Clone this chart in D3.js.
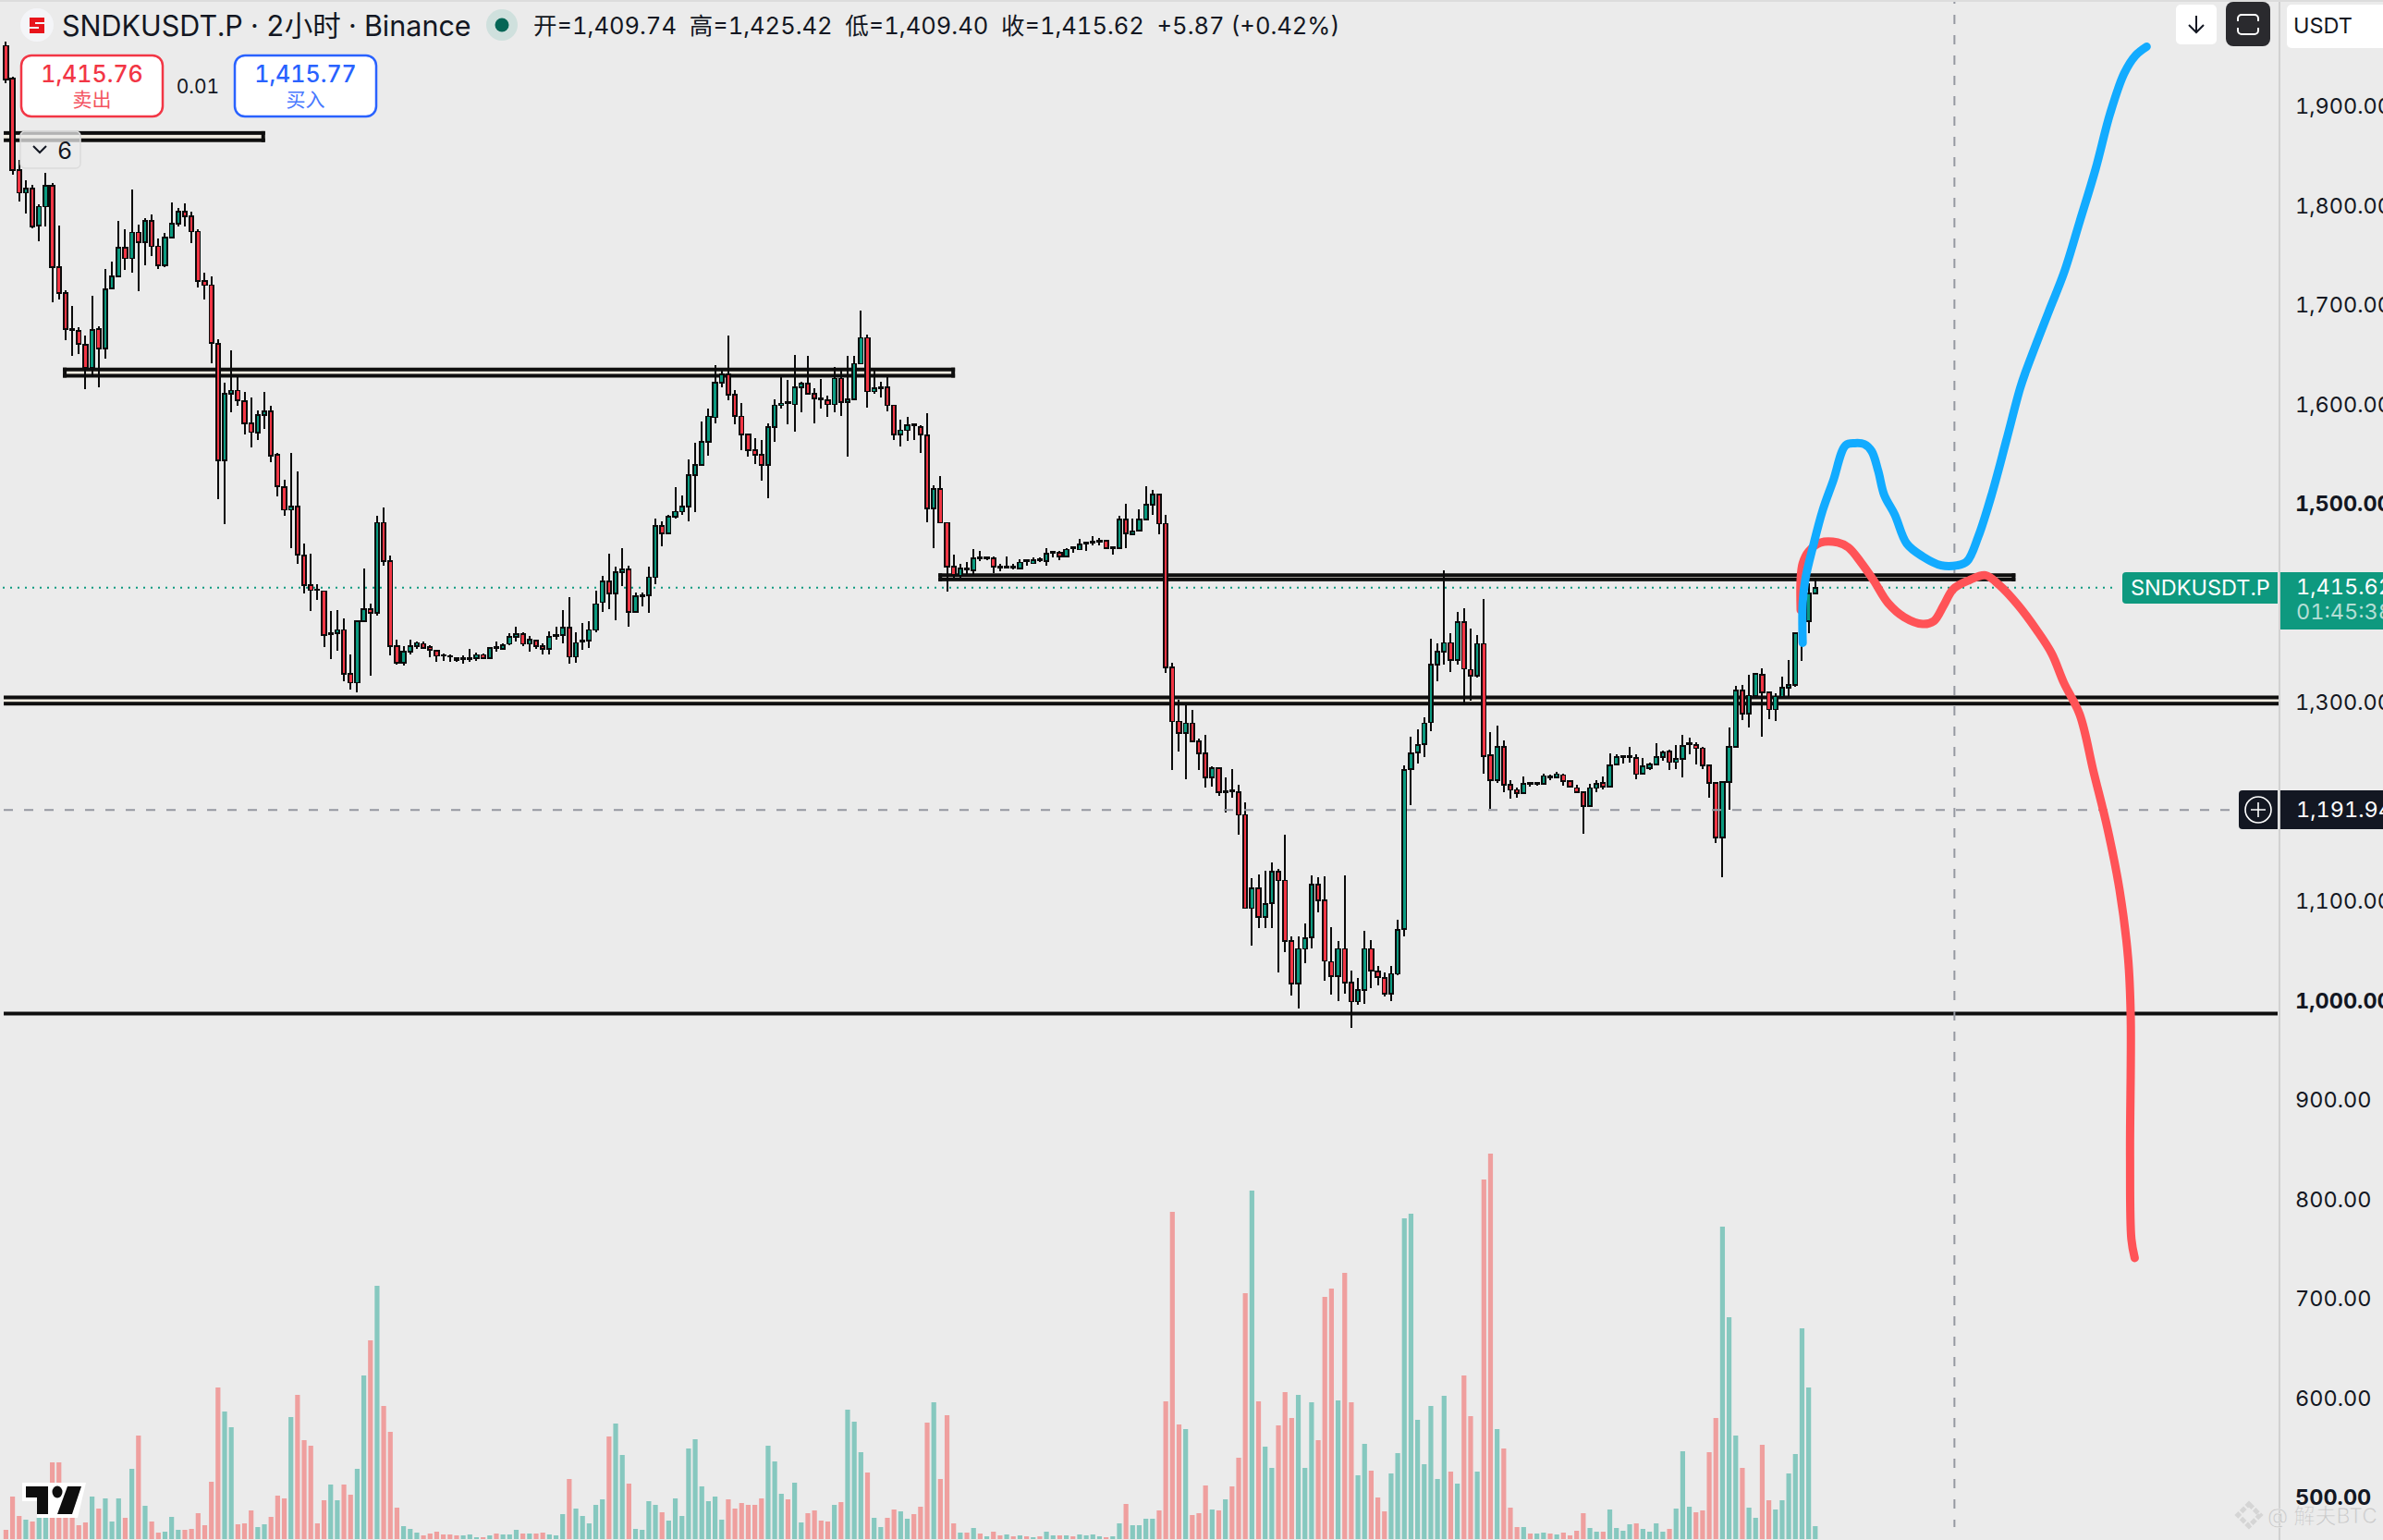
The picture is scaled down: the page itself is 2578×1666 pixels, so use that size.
<!DOCTYPE html>
<html>
<head>
<meta charset="utf-8">
<script src="https://cdn.jsdelivr.net/npm/d3@7/dist/d3.min.js"></script>
<style>
	html, body { margin: 0; padding: 0; background: #ebebeb; overflow: hidden; }
	text { font-family: Inter, 'Noto Sans CJK SC', sans-serif; font-variant-numeric: tabular-nums; white-space: pre; }
</style>
</head>
<body>
<div id="outer"></div>
<script>
////////// Hard Coded Data //////////
const opens = [
	1961,1928,1836,1813,1817,1780,1799,1820,1738,1712,
	1676,1674,1660,1637,1676,1656,1717,1729,1758,1747,
	1773,1763,1785,1759,1740,1768,1782,1794,1789,1774,
	1724,1720,1661,1544,1611,1614,1603,1581,1572,1589,
	1593,1549,1517,1494,1497,1448,1418,1414,1412,1369,
	1370,1373,1329,1320,1382,1394,1390,1481,1442,1357,
	1340,1351,1357,1359,1356,1352,1348,1347,1345,1344,
	1344,1345,1348,1345,1356,1354,1359,1366,1369,1359,
	1362,1357,1354,1367,1368,1375,1346,1361,1362,1373,
	1401,1422,1410,1431,1434,1391,1407,1408,1426,1478,
	1470,1487,1492,1497,1529,1539,1562,1587,1622,1630,
	1610,1588,1570,1554,1549,1539,1577,1599,1602,1600,
	1617,1621,1611,1606,1604,1600,1626,1602,1605,1641,
	1667,1613,1616,1617,1599,1570,1574,1580,1577,1569,
	1495,1515,1481,1437,1428,1435,1433,1446,1445,1445,
	1437,1436,1437,1435,1443,1440,1444,1442,1451,1451,
	1447,1456,1454,1460,1461,1462,1463,1455,1455,1484,
	1469,1473,1484,1499,1509,1480,1335,1281,1269,1279,
	1261,1249,1225,1234,1210,1212,1210,1187,1093,1113,
	1084,1098,1130,1121,1060,1017,1052,1064,1117,1101,
	1039,1025,1052,1018,999,1011,1052,1029,1023,1007,
	1027,1072,1233,1250,1258,1280,1338,1351,1360,1343,
	1381,1333,1327,1359,1247,1222,1255,1217,1212,1209,
	1219,1218,1218,1226,1225,1227,1221,1214,1210,1196,
	1214,1219,1215,1238,1245,1245,1244,1228,1234,1238,
	1245,1251,1240,1243,1258,1257,1254,1237,1219,1164,
	1220,1255,1312,1289,1307,1328,1310,1293,1306,1315,
	1318,1370,1382,1409.74
];
const highs = [
	1965,1930,1846,1826,1821,1801,1833,1823,1780,1715,
	1699,1678,1669,1709,1679,1736,1744,1785,1776,1816,
	1781,1787,1791,1767,1773,1803,1798,1802,1794,1776,
	1733,1729,1666,1622,1654,1628,1613,1607,1594,1613,
	1599,1551,1524,1551,1533,1460,1450,1419,1413,1392,
	1393,1385,1348,1383,1435,1400,1488,1496,1448,1363,
	1357,1363,1361,1361,1358,1353,1349,1348,1346,1347,
	1354,1350,1349,1356,1361,1360,1370,1376,1371,1367,
	1363,1360,1372,1376,1393,1406,1371,1380,1382,1413,
	1427,1450,1437,1455,1438,1411,1411,1437,1485,1482,
	1489,1517,1508,1545,1561,1583,1596,1640,1635,1669,
	1614,1601,1570,1566,1564,1581,1605,1627,1625,1650,
	1623,1649,1616,1626,1609,1638,1636,1649,1649,1694,
	1670,1635,1623,1627,1600,1585,1587,1581,1579,1591,
	1519,1528,1481,1449,1440,1441,1454,1453,1447,1447,
	1440,1447,1440,1444,1444,1446,1446,1455,1453,1453,
	1455,1456,1465,1462,1467,1466,1464,1457,1488,1500,
	1485,1494,1518,1514,1510,1489,1340,1303,1297,1293,
	1264,1267,1236,1235,1225,1233,1217,1200,1123,1127,
	1131,1139,1133,1167,1065,1065,1078,1126,1124,1125,
	1074,1060,1126,1030,1023,1070,1061,1035,1028,1035,
	1081,1237,1266,1273,1285,1364,1360,1433,1370,1391,
	1395,1374,1368,1404,1270,1277,1262,1222,1214,1226,
	1220,1220,1228,1227,1230,1228,1222,1217,1210,1218,
	1222,1226,1249,1248,1246,1255,1248,1244,1240,1259,
	1252,1253,1257,1267,1265,1260,1255,1237,1219,1221,
	1275,1317,1318,1328,1330,1334,1311,1309,1326,1343,
	1371,1393,1420,1425.42
];
const lows = [
	1923,1831,1804,1792,1777,1764,1779,1703,1706,1665,
	1649,1651,1615,1627,1617,1646,1717,1728,1735,1733,
	1714,1740,1749,1736,1738,1767,1779,1779,1762,1718,
	1706,1641,1505,1480,1592,1599,1570,1557,1564,1575,
	1542,1507,1488,1455,1440,1410,1392,1403,1356,1344,
	1352,1321,1313,1310,1381,1327,1387,1438,1347,1338,
	1337,1348,1354,1354,1346,1341,1342,1341,1341,1339,
	1341,1342,1344,1344,1351,1354,1358,1361,1357,1351,
	1354,1348,1348,1363,1360,1339,1340,1353,1355,1371,
	1391,1394,1383,1417,1376,1390,1397,1390,1419,1457,
	1470,1485,1489,1482,1492,1538,1548,1581,1617,1604,
	1580,1554,1547,1540,1523,1506,1562,1596,1580,1573,
	1592,1610,1581,1596,1587,1592,1588,1547,1605,1641,
	1597,1611,1607,1593,1564,1558,1563,1564,1551,1481,
	1455,1481,1412,1426,1426,1428,1428,1442,1443,1430,
	1432,1436,1434,1434,1438,1440,1441,1438,1446,1443,
	1447,1451,1454,1453,1458,1458,1454,1449,1454,1455,
	1468,1472,1483,1489,1469,1330,1232,1251,1223,1260,
	1232,1214,1215,1206,1189,1204,1167,1093,1055,1073,
	1073,1073,1028,1049,1005,992,1038,1053,1089,1020,
	1006,1000,1007,973,996,997,1013,1015,1004,1000,
	1026,1065,1197,1239,1245,1271,1321,1338,1331,1338,
	1297,1302,1325,1228,1193,1219,1210,1203,1204,1208,
	1215,1216,1218,1222,1224,1216,1214,1209,1168,1195,
	1210,1213,1214,1237,1239,1240,1223,1227,1232,1237,
	1241,1232,1233,1225,1248,1238,1233,1204,1159,1124,
	1192,1254,1282,1275,1307,1266,1283,1281,1306,1306,
	1316,1342,1370,1409.40
];
const closes = [
	1927,1836,1813,1817,1779,1799,1820,1738,1712,1676,
	1675,1661,1637,1675,1656,1716,1729,1758,1747,1773,
	1763,1785,1759,1740,1768,1782,1794,1789,1774,1724,
	1720,1662,1544,1611,1614,1604,1581,1572,1589,1593,
	1548,1518,1494,1497,1449,1418,1413,1413,1368,1370,
	1373,1329,1320,1382,1394,1390,1481,1442,1357,1340,
	1351,1357,1360,1355,1353,1347,1347,1346,1343,1345,
	1345,1348,1345,1355,1355,1358,1366,1369,1359,1363,
	1357,1354,1366,1368,1375,1346,1360,1362,1373,1399,
	1422,1410,1431,1434,1391,1407,1408,1426,1478,1470,
	1487,1492,1497,1529,1539,1562,1588,1622,1630,1610,
	1588,1570,1554,1549,1539,1577,1599,1601,1601,1617,
	1621,1611,1606,1605,1600,1626,1602,1605,1641,1667,
	1613,1616,1617,1599,1570,1574,1579,1579,1570,1495,
	1515,1481,1437,1428,1435,1434,1445,1445,1446,1437,
	1436,1437,1436,1441,1442,1443,1443,1450,1452,1447,
	1454,1455,1459,1461,1462,1463,1455,1456,1484,1470,
	1472,1484,1499,1509,1480,1335,1281,1269,1279,1261,
	1249,1225,1234,1210,1211,1211,1187,1093,1113,1084,
	1097,1130,1121,1060,1017,1052,1063,1117,1101,1040,
	1025,1052,1018,999,1011,1052,1030,1024,1007,1027,
	1071,1232,1249,1257,1279,1338,1351,1360,1343,1381,
	1334,1327,1359,1246,1222,1255,1217,1212,1209,1218,
	1218,1219,1226,1225,1228,1221,1215,1210,1196,1214,
	1218,1215,1237,1245,1246,1246,1228,1236,1238,1245,
	1250,1240,1243,1256,1259,1254,1237,1219,1164,1220,
	1255,1312,1289,1307,1329,1310,1293,1306,1315,1318,
	1370,1382,1410,1415.62
];
const volumes = [
	30,138,75,63,57,69,69,249,249,69,
	69,45,54,138,99,132,57,132,69,228,
	336,108,57,21,24,72,30,30,33,84,
	45,186,492,414,363,48,51,93,39,48,
	72,141,132,396,468,321,303,51,126,177,
	126,177,144,228,531,645,822,432,348,102,
	42,33,21,12,18,24,15,15,12,12,
	15,6,6,12,18,15,15,30,18,18,
	18,21,15,12,81,195,99,75,51,111,
	129,333,375,273,180,33,30,123,111,87,
	60,132,75,294,324,171,123,138,63,129,
	99,117,111,111,132,303,252,147,129,183,
	54,84,93,60,57,111,120,420,381,282,
	216,69,39,69,96,90,66,81,105,378,
	444,195,402,51,21,21,36,18,9,24,
	12,15,9,12,9,6,9,24,12,12,
	12,9,15,12,15,9,6,9,51,114,
	45,45,66,66,93,447,1062,372,357,78,
	84,174,96,93,129,171,264,798,1131,447,
	300,231,369,477,393,468,231,444,321,786,
	813,450,864,444,207,309,222,135,90,213,
	279,1041,1056,387,243,432,195,465,219,180,
	531,399,219,1167,1251,357,294,102,39,39,
	18,18,21,18,15,21,12,27,84,36,
	24,24,96,36,27,48,51,33,24,51,
	24,33,99,285,105,87,93,282,393,1014,
	720,336,231,102,69,306,126,96,126,213,
	276,684,492,42
];

// hand drawn forecast curves, position given in bars and price
const blueCurveBars = [271.1,271.1,271.5,272.7,274.1,275.7,277.6,279,280.4,281.5,282.5,283.4,285,286.8,289.2,292,294.4,295.9,297.6,299.7,301.8,303.9,304.7,308.2,310.5,312.9,315.3,317.5,319.6,321.3,323];
const blueCurvePrices = [1360,1400,1424,1458,1493,1523,1559,1561,1560,1553,1533,1509,1489,1460,1447,1438,1438,1442,1467,1511,1563,1616,1632,1693,1732,1784,1837,1893,1933,1951,1960];
const redCurveBars = [270.8,270.8,271.1,272,273.8,276.4,278,279.9,281.8,284,286.4,289.2,290.9,292.4,293.8,296.2,298.7,300.8,303.6,306.4,308.7,310.5,312.9,315,317.1,318.9,320.2,320.6,320.5,320.7,321.2];
const redCurvePrices = [1393,1424,1440,1452,1461,1461,1456,1441,1423,1400,1386,1379,1382,1398,1414,1423,1428,1418,1398,1373,1349,1320,1288,1230,1173,1112,1043,983,844,760,741];

// boxes drawn on the chart: bar range, price range, and which ends are closed
const boxStartBars = [-0.33, 8.6, 140.7, -0.33];
const boxEndBars = [39.1, 143.2, 303.2, 343];
const boxTopPrices = [1875, 1637, 1430, 1307];
const boxBottomPrices = [1864, 1627, 1422, 1297];
const boxLeftClosed = [false, true, true, false];
const boxRightClosed = [true, true, true, false];
const supportPrice = 987;

const priceTicks = [1900,1800,1700,1600,1500,1300,1100,1000,900,800,700,600,500];
const boldTicks = [1500,1000,500];
const lastPrice = 1415.62;
const crosshairPrice = 1191.94;
const crosshairBar = 294;

////////// Hard Coded Defs //////////
const chartWidth = 2578;
const chartHeight = 1666;
const paneRight = 2465;
const background = '#ebebeb';
const upColor = '#0b9a80';
const downColor = '#f23645';
const upVolume = '#86c8bf';
const downVolume = '#ef9f9e';
const lineBlack = '#0e0e0e';
const textColor = '#131722';
const font = "Inter, 'Noto Sans CJK SC', sans-serif";
const boxWeight = 4;

const x = d3.scaleLinear().domain([0, 273]).range([6.4, 1963.8]);
const y = d3.scaleLinear().domain([1900, 500]).range([115, 1620]);
const volumeY = d3.scaleLinear().domain([0, 1251]).range([1665, 1248]);

const svg = d3.select('#outer').append('svg')
	.attr('width', chartWidth)
	.attr('height', chartHeight)
	.style('display', 'block')
	.style('background', background);

////////// Volume //////////
const bars = d3.range(opens.length);
svg.append('g').attr('class', 'volume')
	.selectAll('rect').data(bars).join('rect')
	.attr('x', i => x(i) - 2.6)
	.attr('width', 5.2)
	.attr('y', i => volumeY(volumes[i]))
	.attr('height', i => volumeY(0) - volumeY(volumes[i]))
	.attr('fill', i => closes[i] >= opens[i] ? upVolume : downVolume);

////////// Boxes //////////
const boxes = svg.append('g').attr('class', 'boxes');
boxTopPrices.forEach((top, i) => {
	const left = x(boxStartBars[i]);
	const right = x(boxEndBars[i]);
	const upper = y(top);
	const lower = y(boxBottomPrices[i]);
	boxes.append('rect')
		.attr('x', left).attr('width', right - left)
		.attr('y', upper).attr('height', lower - upper)
		.attr('fill', '#f0ebe0');
	boxes.append('rect').attr('x', left).attr('width', right - left).attr('y', upper).attr('height', boxWeight).attr('fill', lineBlack);
	boxes.append('rect').attr('x', left).attr('width', right - left).attr('y', lower - boxWeight).attr('height', boxWeight).attr('fill', lineBlack);
	if (boxLeftClosed[i]) boxes.append('rect').attr('x', left).attr('width', boxWeight).attr('y', upper).attr('height', lower - upper).attr('fill', lineBlack);
	if (boxRightClosed[i]) boxes.append('rect').attr('x', right - boxWeight).attr('width', boxWeight).attr('y', upper).attr('height', lower - upper).attr('fill', lineBlack);
});
boxes.append('line')
	.attr('x1', x(-0.33)).attr('x2', paneRight - 1)
	.attr('y1', y(supportPrice)).attr('y2', y(supportPrice))
	.attr('stroke', lineBlack).attr('stroke-width', 4);

////////// Price and crosshair lines //////////
svg.append('line')
	.attr('x1', 3).attr('x2', 2290)
	.attr('y1', y(lastPrice)).attr('y2', y(lastPrice))
	.attr('stroke', upColor).attr('stroke-width', 2).attr('stroke-dasharray', '2 6');

////////// Candles //////////
const candles = svg.append('g').attr('class', 'candles').attr('shape-rendering', 'crispEdges');
candles.selectAll('line').data(bars).join('line')
	.attr('x1', i => x(i)).attr('x2', i => x(i))
	.attr('y1', i => y(highs[i])).attr('y2', i => y(lows[i]))
	.attr('stroke', '#0a0a0a').attr('stroke-width', 2);
candles.selectAll('rect').data(bars).join('rect')
	.attr('x', i => x(i) - 2.2)
	.attr('width', 4.4)
	.attr('y', i => y(Math.max(opens[i], closes[i])))
	.attr('height', i => Math.max(1, Math.abs(y(opens[i]) - y(closes[i]))))
	.attr('fill', i => closes[i] >= opens[i] ? upColor : downColor)
	.attr('stroke', '#0a0a0a').attr('stroke-width', 1.8);

svg.append('line')
	.attr('x1', 4).attr('x2', 2415)
	.attr('y1', y(crosshairPrice)).attr('y2', y(crosshairPrice))
	.attr('stroke', '#9598a1').attr('stroke-width', 2).attr('stroke-dasharray', '10 12');
svg.append('line')
	.attr('x1', x(crosshairBar)).attr('x2', x(crosshairBar))
	.attr('y1', 0).attr('y2', 1652)
	.attr('stroke', '#9598a1').attr('stroke-width', 2).attr('stroke-dasharray', '10 12').attr('stroke-dashoffset', 6);

////////// Hand drawn curves //////////
const curve = d3.line().x(d => x(d[0])).y(d => y(d[1])).curve(d3.curveCatmullRom.alpha(0.5));
svg.append('path')
	.attr('d', curve(d3.zip(redCurveBars, redCurvePrices)))
	.attr('fill', 'none').attr('stroke', '#ff5357').attr('stroke-width', 9).attr('stroke-linecap', 'round').attr('stroke-linejoin', 'round');
svg.append('path')
	.attr('d', curve(d3.zip(blueCurveBars, blueCurvePrices)))
	.attr('fill', 'none').attr('stroke', '#12abff').attr('stroke-width', 9).attr('stroke-linecap', 'round').attr('stroke-linejoin', 'round');

////////// Price axis //////////
svg.append('rect').attr('x', paneRight).attr('y', 0).attr('width', 2).attr('height', chartHeight).attr('fill', '#d1d1d1');
const axis = svg.append('g')
	.attr('transform', `translate(${paneRight},0)`)
	.call(d3.axisRight(y).tickValues(priceTicks).tickSize(0).tickPadding(18).tickFormat(d3.format(',.2f')));
axis.select('.domain').remove();
axis.selectAll('text')
	.style('font-family', font).style('font-size', '23.5px').attr('fill', textColor)
	.style('font-weight', d => boldTicks.includes(d) ? 700 : 400);

// last price labels
svg.append('rect').attr('x', 2467).attr('y', 619).attr('width', 111).attr('height', 62).attr('fill', '#0e997f');
svg.append('path').attr('d', 'M2464 619H2300a4 4 0 0 0 -4 4V649a4 4 0 0 0 4 4H2464Z').attr('fill', '#0e997f');
svg.append('text').attr('x', 2305).attr('y', 636).attr('dy', '0.36em').attr('fill', '#fff').style('font-size', '23.5px').text('SNDKUSDT.P');
svg.append('text').attr('x', 2484).attr('y', 635).attr('dy', '0.36em').attr('fill', '#fff').style('font-size', '23.5px').text(d3.format(',.2f')(lastPrice));
svg.append('text').attr('x', 2484).attr('y', 662).attr('dy', '0.36em').attr('fill', '#b3ded5').style('font-size', '23.5px').text('01:45:38');

// crosshair labels
svg.append('path').attr('d', 'M2464 855H2426a4 4 0 0 0 -4 4V893a4 4 0 0 0 4 4H2464Z').attr('fill', '#131722');
svg.append('rect').attr('x', 2467).attr('y', 855).attr('width', 111).attr('height', 42).attr('fill', '#131722');
svg.append('circle').attr('cx', 2443).attr('cy', 876).attr('r', 14).attr('fill', 'none').attr('stroke', '#fff').attr('stroke-width', 1.6);
svg.append('path').attr('d', 'M2435 876H2451M2443 868V884').attr('stroke', '#fff').attr('stroke-width', 1.6);
svg.append('text').attr('x', 2484).attr('y', 876).attr('dy', '0.36em').attr('fill', '#fff').style('font-size', '23.5px').text(d3.format(',.2f')(crosshairPrice));

////////// Header //////////
svg.append('rect').attr('x', 0).attr('y', 0).attr('width', chartWidth).attr('height', 2).attr('fill', '#dcdcdc');
svg.append('circle').attr('cx', 40).attr('cy', 27).attr('r', 18).attr('fill', '#f4f5f8');
svg.append('path').attr('d', 'M32 19H48V24H38V26H48V36H32V31H42V29H32Z').attr('fill', '#e8141c');
svg.append('text').attr('x', 67).attr('y', 28).attr('dy', '0.36em').attr('fill', textColor).style('font-size', '30.5px').text('SNDKUSDT.P · 2小时 · Binance');
svg.append('circle').attr('cx', 543).attr('cy', 27).attr('r', 17).attr('fill', '#cfe0dd');
svg.append('circle').attr('cx', 543).attr('cy', 27).attr('r', 7.5).attr('fill', '#056656');
svg.append('text').attr('x', 577).attr('y', 28).attr('dy', '0.36em').attr('fill', textColor).style('font-size', '25.5px')
	.text('开=1,409.74  高=1,425.42  低=1,409.40  收=1,415.62  +5.87 (+0.42%)');

// buy and sell buttons
const tradeButton = (left, color, price, label) => {
	svg.append('rect').attr('x', left).attr('y', 60).attr('width', 153).attr('height', 66).attr('rx', 11)
		.attr('fill', '#fff').attr('stroke', color).attr('stroke-width', 2.5);
	svg.append('text').attr('x', left + 76.5).attr('y', 80).attr('dy', '0.36em').attr('text-anchor', 'middle')
		.attr('fill', color).style('font-size', '25px').style('font-weight', 500).text(price);
	svg.append('text').attr('x', left + 76.5).attr('y', 107).attr('dy', '0.36em').attr('text-anchor', 'middle')
		.attr('fill', color).style('font-size', '21px').attr('opacity', 0.85).text(label);
};
tradeButton(23, '#f23645', '1,415.76', '卖出');
tradeButton(254, '#2962ff', '1,415.77', '买入');
svg.append('text').attr('x', 214).attr('y', 93).attr('dy', '0.36em').attr('text-anchor', 'middle').attr('fill', textColor).style('font-size', '21px').text('0.01');

// collapsed indicators chip
svg.append('rect').attr('x', 22).attr('y', 142).attr('width', 65).attr('height', 40).attr('rx', 5)
	.attr('fill', '#ebebeb').attr('fill-opacity', 0.75).attr('stroke', '#dcdcdc').attr('stroke-width', 1.5);
svg.append('path').attr('d', 'M36 158L43 165L50 158').attr('fill', 'none').attr('stroke', textColor).attr('stroke-width', 2);
svg.append('text').attr('x', 70).attr('y', 163).attr('dy', '0.36em').attr('text-anchor', 'middle').attr('fill', textColor).style('font-size', '25px').text('6');

// top right buttons
svg.append('rect').attr('x', 2354).attr('y', 5).attr('width', 44).attr('height', 43).attr('rx', 5).attr('fill', '#fff');
svg.append('path').attr('d', 'M2376 17V35M2368 27L2376 35L2384 27').attr('fill', 'none').attr('stroke', textColor).attr('stroke-width', 2);
svg.append('rect').attr('x', 2408).attr('y', 2).attr('width', 48).attr('height', 48).attr('rx', 8).attr('fill', '#2a2a2e');
svg.append('path').attr('d', 'M2421 23V20a4 4 0 0 1 4 -4H2439a4 4 0 0 1 4 4V23M2421 30V33a4 4 0 0 0 4 4H2439a4 4 0 0 0 4 -4V30').attr('fill', 'none').attr('stroke', '#fff').attr('stroke-width', 2);
svg.append('rect').attr('x', 2474).attr('y', 5).attr('width', 120).attr('height', 47).attr('rx', 5).attr('fill', '#fff');
svg.append('text').attr('x', 2481).attr('y', 28).attr('dy', '0.36em').attr('fill', textColor).style('font-size', '23.5px').text('USDT');

////////// Logo and watermark //////////
svg.append('path').attr('d', 'M24 1604H93L84 1642H58L40 1642V1624H24Z').attr('fill', '#fff');
svg.append('path').attr('d', 'M28 1608H52V1638H40V1620H28Z').attr('fill', lineBlack);
svg.append('ellipse').attr('cx', 62).attr('cy', 1614).attr('rx', 5.5).attr('ry', 6.5).attr('fill', lineBlack);
svg.append('path').attr('d', 'M73 1608H88L78 1638H62Z').attr('fill', lineBlack);

const watermark = svg.append('g').attr('opacity', 0.85);
watermark.append('path').attr('d', 'M2433 1627L2445 1639L2433 1651L2421 1639Z').attr('fill', 'none').attr('stroke', '#d2d2d2').attr('stroke-width', 5).attr('stroke-dasharray', '6 2');
watermark.append('text').attr('x', 2453).attr('y', 1640).attr('dy', '0.36em').attr('fill', '#c4c4c4').attr('stroke', '#f3f3f3').attr('stroke-width', 0.5).style('font-size', '23px').text('@ 解夫BTC');
</script>
</body>
</html>
